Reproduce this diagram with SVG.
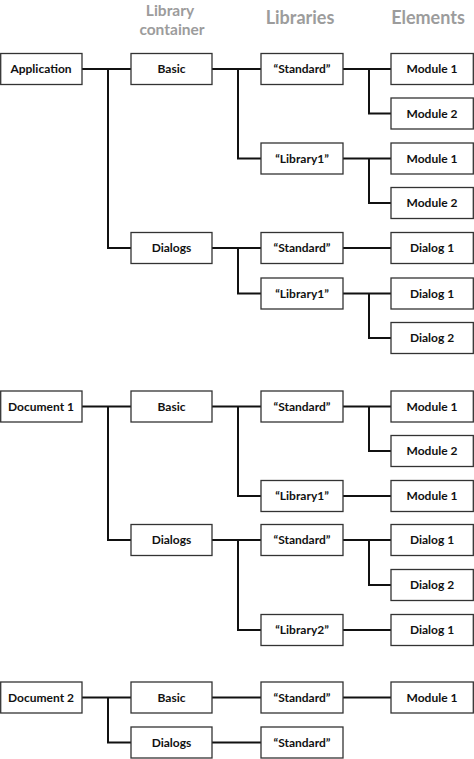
<svg xmlns="http://www.w3.org/2000/svg" width="474" height="759" viewBox="0 0 474 759">
<style>
.b{fill:#fff;stroke:#333;stroke-width:1.3}
.t{font-family:Lato,"Open Sans",sans-serif;font-weight:bold;font-size:12px;fill:#111;text-anchor:middle}
.h{font-family:Lato,"Open Sans",sans-serif;font-weight:bold;font-size:18px;fill:#9c9c9c;text-anchor:middle}
.hs{font-size:15.5px}
.c{fill:none;stroke:#111;stroke-width:2}
</style>
<g id="headers">
<text class="h hs" x="170" y="16">Library</text>
<text class="h hs" x="172" y="34.5">container</text>
<text class="h" x="300" y="24">Libraries</text>
<text class="h" x="428" y="24">Elements</text>
</g>
<g id="connectors">
<path class="c" d="M82 69H131M108 69V248H131"/>
<path class="c" d="M212 69H261M238 69V158.5H261"/>
<path class="c" d="M343 69H391M369 69V113.5H391"/>
<path class="c" d="M343 158.5H391M369 158.5V203H391"/>
<path class="c" d="M212 248H261M238 248V293.5H261"/>
<path class="c" d="M343 248H391"/>
<path class="c" d="M343 293.5H391M369 293.5V338H391"/>
<path class="c" d="M82 406.5H131M108 406.5V540H131"/>
<path class="c" d="M212 406.5H261M238 406.5V496H261"/>
<path class="c" d="M343 406.5H391M369 406.5V451H391"/>
<path class="c" d="M343 496H391"/>
<path class="c" d="M212 540H261M238 540V630H261"/>
<path class="c" d="M343 540H391M369 540V585H391"/>
<path class="c" d="M343 630H391"/>
<path class="c" d="M82 697.5H131M108 697.5V742.5H131"/>
<path class="c" d="M212 697.5H261"/>
<path class="c" d="M343 697.5H391"/>
<path class="c" d="M212 742.5H261"/>
</g>
<g id="application"><rect class="b" x="0.7" y="53.5" width="81.3" height="31"/><text class="t" x="41" y="73">Application</text></g>
<g id="app-basic"><rect class="b" x="131" y="53.5" width="81" height="31"/><text class="t" x="171.5" y="73">Basic</text></g>
<g id="app-basic-standard"><rect class="b" x="261" y="53.5" width="82" height="31"/><text class="t" x="302" y="73">“Standard”</text></g>
<g id="app-basic-standard-m1"><rect class="b" x="391" y="53.5" width="82.3" height="31"/><text class="t" x="432" y="73">Module 1</text></g>
<g id="app-basic-standard-m2"><rect class="b" x="391" y="98" width="82.3" height="31"/><text class="t" x="432" y="117.5">Module 2</text></g>
<g id="app-basic-library1"><rect class="b" x="261" y="143" width="82" height="31"/><text class="t" x="302" y="162.5">“Library1”</text></g>
<g id="app-basic-library1-m1"><rect class="b" x="391" y="143" width="82.3" height="31"/><text class="t" x="432" y="162.5">Module 1</text></g>
<g id="app-basic-library1-m2"><rect class="b" x="391" y="187.5" width="82.3" height="31"/><text class="t" x="432" y="207">Module 2</text></g>
<g id="app-dialogs"><rect class="b" x="131" y="232.5" width="81" height="31"/><text class="t" x="171.5" y="252">Dialogs</text></g>
<g id="app-dialogs-standard"><rect class="b" x="261" y="232.5" width="82" height="31"/><text class="t" x="302" y="252">“Standard”</text></g>
<g id="app-dialogs-standard-d1"><rect class="b" x="391" y="232.5" width="82.3" height="31"/><text class="t" x="432" y="252">Dialog 1</text></g>
<g id="app-dialogs-library1"><rect class="b" x="261" y="278" width="82" height="31"/><text class="t" x="302" y="297.5">“Library1”</text></g>
<g id="app-dialogs-library1-d1"><rect class="b" x="391" y="278" width="82.3" height="31"/><text class="t" x="432" y="297.5">Dialog 1</text></g>
<g id="app-dialogs-library1-d2"><rect class="b" x="391" y="322.5" width="82.3" height="31"/><text class="t" x="432" y="342">Dialog 2</text></g>
<g id="document1"><rect class="b" x="0.7" y="391" width="81.3" height="31"/><text class="t" x="41" y="410.5">Document 1</text></g>
<g id="doc1-basic"><rect class="b" x="131" y="391" width="81" height="31"/><text class="t" x="171.5" y="410.5">Basic</text></g>
<g id="doc1-basic-standard"><rect class="b" x="261" y="391" width="82" height="31"/><text class="t" x="302" y="410.5">“Standard”</text></g>
<g id="doc1-basic-standard-m1"><rect class="b" x="391" y="391" width="82.3" height="31"/><text class="t" x="432" y="410.5">Module 1</text></g>
<g id="doc1-basic-standard-m2"><rect class="b" x="391" y="435.5" width="82.3" height="31"/><text class="t" x="432" y="455">Module 2</text></g>
<g id="doc1-basic-library1"><rect class="b" x="261" y="480.5" width="82" height="31"/><text class="t" x="302" y="500">“Library1”</text></g>
<g id="doc1-basic-library1-m1"><rect class="b" x="391" y="480.5" width="82.3" height="31"/><text class="t" x="432" y="500">Module 1</text></g>
<g id="doc1-dialogs"><rect class="b" x="131" y="524.5" width="81" height="31"/><text class="t" x="171.5" y="544">Dialogs</text></g>
<g id="doc1-dialogs-standard"><rect class="b" x="261" y="524.5" width="82" height="31"/><text class="t" x="302" y="544">“Standard”</text></g>
<g id="doc1-dialogs-standard-d1"><rect class="b" x="391" y="524.5" width="82.3" height="31"/><text class="t" x="432" y="544">Dialog 1</text></g>
<g id="doc1-dialogs-standard-d2"><rect class="b" x="391" y="569.5" width="82.3" height="31"/><text class="t" x="432" y="589">Dialog 2</text></g>
<g id="doc1-dialogs-library2"><rect class="b" x="261" y="614.5" width="82" height="31"/><text class="t" x="302" y="634">“Library2”</text></g>
<g id="doc1-dialogs-library2-d1"><rect class="b" x="391" y="614.5" width="82.3" height="31"/><text class="t" x="432" y="634">Dialog 1</text></g>
<g id="document2"><rect class="b" x="0.7" y="682" width="81.3" height="31"/><text class="t" x="41" y="701.5">Document 2</text></g>
<g id="doc2-basic"><rect class="b" x="131" y="682" width="81" height="31"/><text class="t" x="171.5" y="701.5">Basic</text></g>
<g id="doc2-basic-standard"><rect class="b" x="261" y="682" width="82" height="31"/><text class="t" x="302" y="701.5">“Standard”</text></g>
<g id="doc2-basic-standard-m1"><rect class="b" x="391" y="682" width="82.3" height="31"/><text class="t" x="432" y="701.5">Module 1</text></g>
<g id="doc2-dialogs"><rect class="b" x="131" y="727" width="81" height="31"/><text class="t" x="171.5" y="746.5">Dialogs</text></g>
<g id="doc2-dialogs-standard"><rect class="b" x="261" y="727" width="82" height="31"/><text class="t" x="302" y="746.5">“Standard”</text></g>
</svg>
